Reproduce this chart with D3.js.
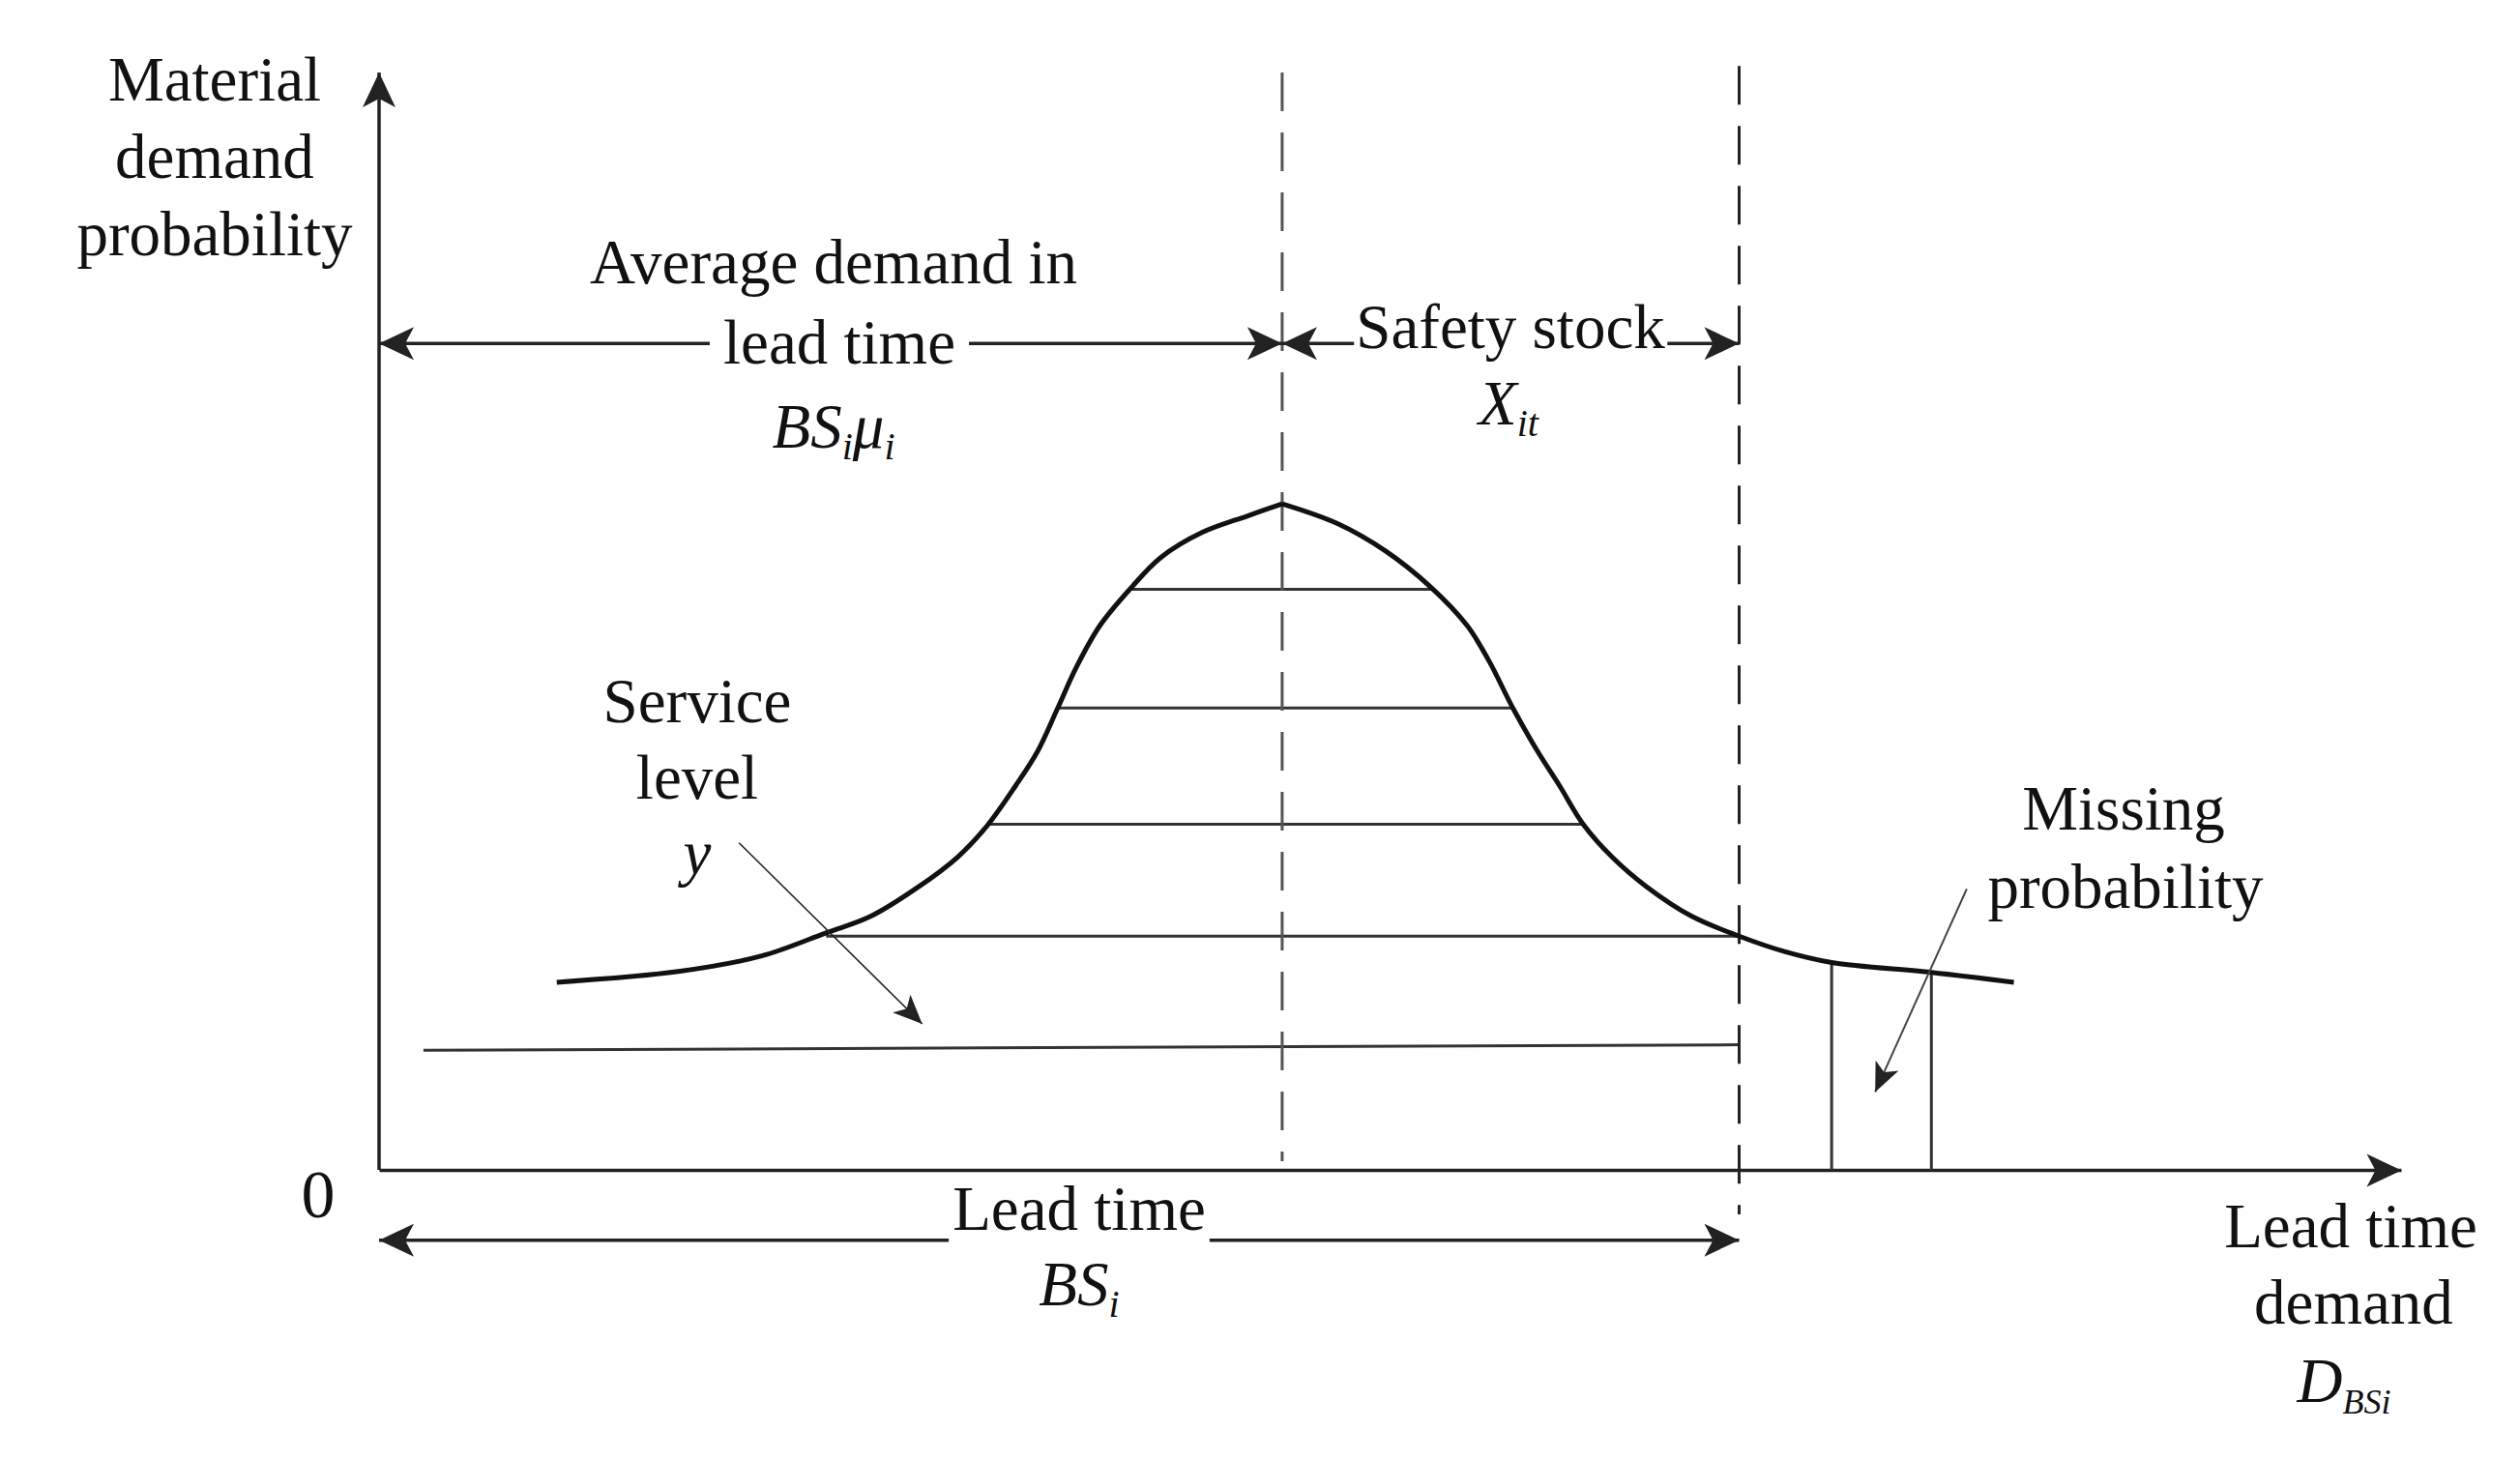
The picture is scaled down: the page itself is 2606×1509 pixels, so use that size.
<!DOCTYPE html>
<html>
<head>
<meta charset="utf-8">
<script src="https://cdn.jsdelivr.net/npm/d3@7"></script>
<style>
  html, body { margin: 0; padding: 0; background: #fff; }
  text { font-family: "Liberation Serif", "Times New Roman", serif; fill: #111; }
</style>
</head>
<body>
<script>
// demand / probability (arbitrary units)
var leftDemand  = [19.6, 33.2, 42.2, 49.3, 54.2, 59.5, 63.8, 67.0, 70.2, 72.6, 74.8, 76.9, 79.5, 83.0, 86.2, 90.8, 95.8, 99.6];
var leftProb    = [17.1, 18.1, 19.5, 21.6, 23.1, 25.8, 28.5, 31.3, 35.0, 38.1, 42.0, 45.8, 49.6, 53.1, 55.8, 58.1, 59.6, 60.7];
var rightDemand = [99.6, 105.7, 111.0, 116.0, 120.0, 122.4, 125.1, 127.8, 130.2, 132.8, 136.0, 139.8, 144.8, 150.0, 155.0, 160.2, 171.2, 180.3];
var rightProb   = [60.7, 58.9, 56.4, 53.1, 49.6, 46.4, 42.0, 38.1, 35.0, 31.5, 28.5, 25.8, 23.1, 21.3, 19.9, 18.9, 18.0, 17.1];

var hatchLevel = [52.9, 42.1, 31.5, 21.3];
var hatchFrom  = [83.0, 74.9, 67.0, 49.3];
var hatchTo    = [116.2, 125.1, 132.8, 150.0];

var serviceLineX = [4.9, 150.0];
var serviceLineY = [10.9, 11.4];

var meanDemand = 99.6;     // BS_i mu_i
var leadDemand = 150.0;    // BS_i
var missingX = [160.2, 171.2];
var missingTop = [18.9, 18.0];

var demandMax = 223;
var probMax = 100;

var width = 2606, height = 1509;

var x = d3.scaleLinear().domain([0, demandMax]).range([392, 2483]);
var y = d3.scaleLinear().domain([0, probMax]).range([1210, 75]);

var svg = d3.select('body').append('svg')
            .attr('width', width)
            .attr('height', height);

var defs = svg.append('defs');
function marker(id, len, half) {
  defs.append('marker')
      .attr('id', id)
      .attr('markerUnits', 'userSpaceOnUse')
      .attr('viewBox', (-len - 2) + ' ' + (-half - 2) + ' ' + (len + 4) + ' ' + (2 * half + 4))
      .attr('markerWidth', len + 4)
      .attr('markerHeight', 2 * half + 4)
      .attr('refX', 0).attr('refY', 0)
      .attr('orient', 'auto-start-reverse')
    .append('path')
      .attr('d', 'M0,0L' + (-len) + ',' + (-half) + 'L' + (-len * 0.75) + ',0L' + (-len) + ',' + half + 'Z')
      .attr('fill', '#222');
}
marker('arr', 36, 17);
marker('arrSmall', 30, 13);

// axes (no ticks, only arrows)
var xAxis = d3.axisBottom(x).tickValues([]).tickSizeOuter(0);
var yAxis = d3.axisLeft(y).tickValues([]).tickSizeOuter(0);

svg.append('g').attr('transform', 'translate(0,' + y(0) + ')').call(xAxis)
   .select('.domain').attr('stroke', '#222').attr('stroke-width', 3.5).attr('marker-end', 'url(#arr)');
svg.append('g').attr('transform', 'translate(' + x(0) + ',0)').call(yAxis)
   .select('.domain').attr('stroke', '#222').attr('stroke-width', 3.5)
   .attr('d', 'M0,' + y(0) + 'V' + y(probMax)).attr('marker-end', 'url(#arr)');

// hatch lines under the curve
var chart = svg.append('g');
chart.selectAll('.hatch').data(hatchLevel).enter().append('line')
     .attr('class', 'hatch')
     .attr('x1', function(d, i){ return x(hatchFrom[i]); })
     .attr('x2', function(d, i){ return x(hatchTo[i]); })
     .attr('y1', function(d){ return y(d); })
     .attr('y2', function(d){ return y(d); })
     .attr('stroke', '#333').attr('stroke-width', 3);

chart.append('line')
     .attr('x1', x(serviceLineX[0])).attr('y1', y(serviceLineY[0]))
     .attr('x2', x(serviceLineX[1])).attr('y2', y(serviceLineY[1]))
     .attr('stroke', '#333').attr('stroke-width', 3);

// missing probability strip
chart.selectAll('.miss').data(missingX).enter().append('line')
     .attr('class', 'miss')
     .attr('x1', function(d){ return x(d); }).attr('x2', function(d){ return x(d); })
     .attr('y1', function(d, i){ return y(missingTop[i]); })
     .attr('y2', y(0))
     .attr('stroke', '#333').attr('stroke-width', 3);

// dashed verticals
chart.append('line')
     .attr('x1', x(meanDemand)).attr('x2', x(meanDemand))
     .attr('y1', y(100)).attr('y2', y(0.8))
     .attr('stroke', '#555').attr('stroke-width', 3).attr('stroke-dasharray', '40,22');
chart.append('line')
     .attr('x1', x(leadDemand)).attr('x2', x(leadDemand))
     .attr('y1', y(100.6)).attr('y2', y(-4.05))
     .attr('stroke', '#222').attr('stroke-width', 3).attr('stroke-dasharray', '40,22');

// the demand curve, two halves so the peak stays pointed
var line = d3.line()
             .x(function(d){ return x(d[0]); })
             .y(function(d){ return y(d[1]); })
             .curve(d3.curveCatmullRom.alpha(0.5));
chart.append('path').attr('d', line(d3.zip(leftDemand, leftProb)))
     .attr('fill', 'none').attr('stroke', '#111').attr('stroke-width', 5);
chart.append('path').attr('d', line(d3.zip(rightDemand, rightProb)))
     .attr('fill', 'none').attr('stroke', '#111').attr('stroke-width', 5);

// dimension arrows
var topArrowY = 75.3, bottomArrowY = -6.4;
function dim(x0, x1, yy) {
  svg.append('line')
     .attr('x1', x(x0)).attr('x2', x(x1)).attr('y1', y(yy)).attr('y2', y(yy))
     .attr('stroke', '#222').attr('stroke-width', 3.5)
     .attr('marker-start', 'url(#arr)').attr('marker-end', 'url(#arr)');
}
dim(0, meanDemand, topArrowY);
dim(meanDemand, leadDemand, topArrowY);
dim(0, leadDemand, bottomArrowY);

// pointer arrows
svg.append('line')
   .attr('x1', x(39.7)).attr('y1', y(29.8)).attr('x2', x(59.9)).attr('y2', y(13.3))
   .attr('stroke', '#222').attr('stroke-width', 1.6).attr('marker-end', 'url(#arrSmall)');
svg.append('line')
   .attr('x1', x(175.1)).attr('y1', y(25.6)).attr('x2', x(165.0)).attr('y2', y(7.1))
   .attr('stroke', '#444').attr('stroke-width', 2).attr('marker-end', 'url(#arrSmall)');

// text
var fs = 65;
function label(str, cx, by, opts) {
  opts = opts || {};
  var t = svg.append('text').attr('x', cx).attr('y', by)
             .attr('text-anchor', opts.anchor || 'middle')
             .attr('font-size', opts.size || fs)
             .attr('font-style', opts.italic ? 'italic' : null)
             .text(str);
  if (opts.bg) {
    var b = t.node().getBBox();
    svg.insert('rect', function(){ return t.node(); })
       .attr('x', b.x - opts.bg).attr('y', b.y)
       .attr('width', b.width + 2 * opts.bg).attr('height', b.height + 20)
       .attr('fill', '#fff');
  }
  return t;
}
function sub(t, str, size, dy) {
  t.append('tspan').attr('font-size', size).attr('dy', dy).attr('font-style', 'italic').text(str);
}

label('Material', 222, 104);
label('demand', 222, 184);
label('probability', 222, 264);
label('0', 329, 1259, { size: 70 });

label('Average demand in', 862, 293);
label('lead time', 868, 376, { bg: 14 });
var bsmu = svg.append('text').attr('x', 862).attr('y', 463).attr('text-anchor', 'middle')
              .attr('font-size', fs).attr('font-style', 'italic');
bsmu.append('tspan').text('BS');
sub(bsmu, 'i', 40, 12);
bsmu.append('tspan').attr('dy', -12).text('\u03bc');
sub(bsmu, 'i', 40, 12);

label('Safety stock', 1562, 360, { bg: 2 });
var xit = svg.append('text').attr('x', 1560).attr('y', 439).attr('text-anchor', 'middle')
             .attr('font-size', fs).attr('font-style', 'italic');
xit.append('tspan').text('X');
sub(xit, 'it', 40, 12);

label('Service', 721, 747);
label('level', 721, 826);
label('y', 721, 904, { italic: true });

label('Lead time', 1116, 1272, { bg: 4 });
var bsi = svg.append('text').attr('x', 1116).attr('y', 1350).attr('text-anchor', 'middle')
             .attr('font-size', fs).attr('font-style', 'italic');
bsi.append('tspan').text('BS');
sub(bsi, 'i', 40, 12);

label('Missing', 2196, 858);
label('probability', 2198, 939);

label('Lead time', 2431, 1290);
label('demand', 2434, 1369);
var dbs = svg.append('text').attr('x', 2424).attr('y', 1450).attr('text-anchor', 'middle')
             .attr('font-size', fs).attr('font-style', 'italic');
dbs.append('tspan').text('D');
sub(dbs, 'BSi', 36, 12);
</script>
</body>
</html>
